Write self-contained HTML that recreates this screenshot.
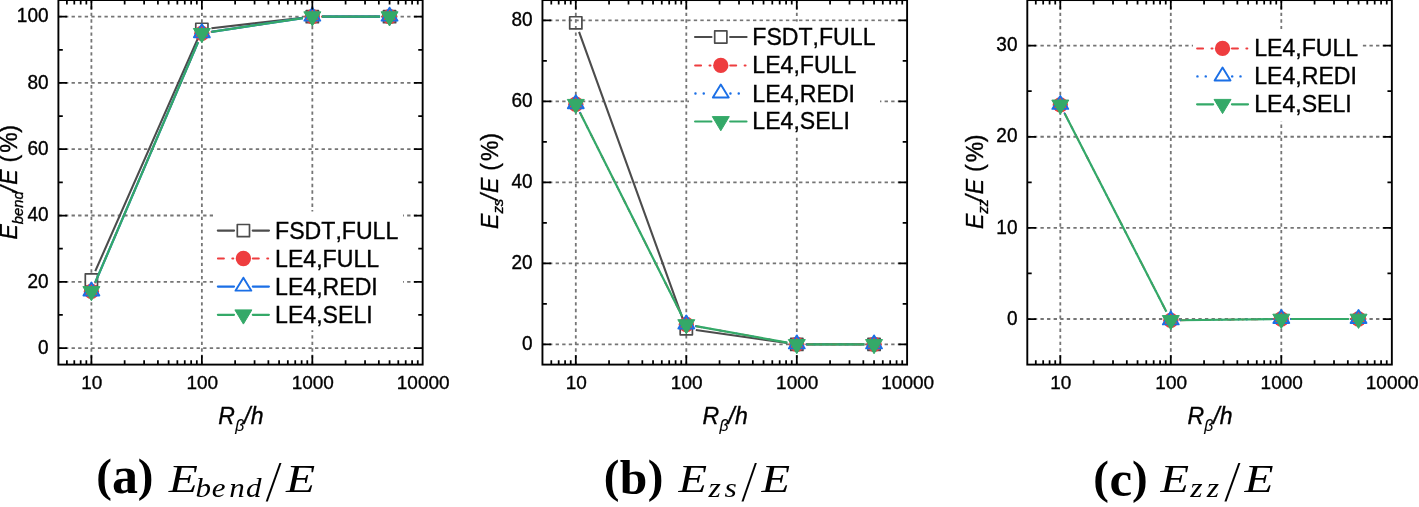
<!DOCTYPE html>
<html lang="en"><head><meta charset="utf-8"><title>Energy ratios</title>
<style>html,body{margin:0;padding:0;background:#fff}body{width:1419px;height:507px;overflow:hidden}svg{display:block}text{font-family:"Liberation Sans",Arial,Helvetica,sans-serif;fill:#000;font-kerning:none;stroke:#000;stroke-width:0.35px}.cap{font-family:"Liberation Serif","Times New Roman",Times,serif;stroke-width:0}</style></head><body>
<svg width="1419" height="507" viewBox="0 0 1419 507">
<rect width="1419" height="507" fill="#fff"/>
<g stroke="#757575" stroke-width="1.8" stroke-dasharray="3.35 3.23" fill="none">
<path d="M58.4 348.1H422.65"/>
<path d="M58.4 281.8H422.65"/>
<path d="M58.4 215.5H422.65"/>
<path d="M58.4 149.2H422.65"/>
<path d="M58.4 82.9H422.65"/>
<path d="M58.4 16.6H422.65"/>
<path stroke-dashoffset="0.5" d="M91.4 0.05V364.6"/>
<path stroke-dashoffset="0.5" d="M201.87 0.05V364.6"/>
<path stroke-dashoffset="0.5" d="M312.34 0.05V364.6"/>
</g>
<rect x="213" y="211.5" width="190" height="118.7" fill="#fff"/>
<path d="M217.8 230.6H234.1M252.7 230.6H269" stroke="#4c4c4c" stroke-width="2.1" stroke-linecap="round" fill="none"/>
<rect x="237.3" y="224.5" width="12.2" height="12.2" fill="none" stroke="#4c4c4c" stroke-width="1.7" stroke-linejoin="round"/>
<text transform="translate(275.1 238.6) scale(1 1)" font-size="23.1">FSDT,FULL</text>
<path d="M217.9 258.5H234M252.8 258.5H268.9" stroke="#ee3d3f" stroke-width="2" fill="none" stroke-dasharray="6 8.4 1 8.4" stroke-linecap="round"/>
<circle cx="243.4" cy="258.5" r="7.65" fill="#ee3d3f"/>
<text transform="translate(275.1 266.5) scale(1 1)" font-size="23.1">LE4,FULL</text>
<path d="M217.9 286.6H234M252.8 286.6H268.9" stroke="#1b6fe6" stroke-width="2.2" stroke-linecap="round" fill="none"/>
<path d="M243.4 277.65L251.35 290.65H235.45Z" fill="none" stroke="#1b6fe6" stroke-width="1.9" stroke-linejoin="round"/>
<text transform="translate(275.1 294.6) scale(1 1)" font-size="23.1">LE4,REDI</text>
<path d="M217.9 314.8H234M252.8 314.8H268.9" stroke="#34a968" stroke-width="2.2" stroke-linecap="round" fill="none"/>
<path d="M243.4 324.1L251.9 309.9H234.9Z" fill="#34a968" stroke="#34a968" stroke-width="1" stroke-linejoin="round"/>
<text transform="translate(275.1 322.7) scale(1 1)" font-size="23.1">LE4,SELI</text>
<path d="M95.27 271.16L198 38.11M211.41 28.23L302.8 17.7M321.94 16.6L379.96 16.6" stroke="#4c4c4c" stroke-width="2.1" fill="none"/>
<rect x="85.3" y="273.84" width="12.2" height="12.2" fill="#fff" stroke="#4c4c4c" stroke-width="1.7" stroke-linejoin="round"/>
<rect x="195.77" y="23.23" width="12.2" height="12.2" fill="#fff" stroke="#4c4c4c" stroke-width="1.7" stroke-linejoin="round"/>
<rect x="306.24" y="10.5" width="12.2" height="12.2" fill="#fff" stroke="#4c4c4c" stroke-width="1.7" stroke-linejoin="round"/>
<rect x="383.46" y="10.5" width="12.2" height="12.2" fill="#fff" stroke="#4c4c4c" stroke-width="1.7" stroke-linejoin="round"/>
<path d="M95.18 282.59L198.09 42.13M211.36 31.87L302.85 18.04M321.94 16.6L379.96 16.6" stroke="#ee3d3f" stroke-width="1.8" fill="none" stroke-dasharray="6 8.4 1 8.4" stroke-linecap="round"/>
<circle cx="91.4" cy="291.41" r="7.65" fill="#ee3d3f"/>
<circle cx="201.87" cy="33.31" r="7.65" fill="#ee3d3f"/>
<circle cx="312.34" cy="16.6" r="7.65" fill="#ee3d3f"/>
<circle cx="389.56" cy="16.6" r="7.65" fill="#ee3d3f"/>
<path d="M95.18 282.59L198.09 42.13M211.36 31.87L302.85 18.04M321.94 16.6L379.96 16.6" stroke="#1b6fe6" stroke-width="2.2" fill="none"/>
<path d="M91.4 282.46L99.35 295.46H83.45Z" fill="none" stroke="#1b6fe6" stroke-width="1.9" stroke-linejoin="round"/>
<path d="M201.87 24.36L209.82 37.36H193.92Z" fill="none" stroke="#1b6fe6" stroke-width="1.9" stroke-linejoin="round"/>
<path d="M312.34 7.65L320.29 20.65H304.39Z" fill="none" stroke="#1b6fe6" stroke-width="1.9" stroke-linejoin="round"/>
<path d="M389.56 7.65L397.51 20.65H381.61Z" fill="none" stroke="#1b6fe6" stroke-width="1.9" stroke-linejoin="round"/>
<path d="M95.18 282.59L198.09 42.13M211.36 31.87L302.85 18.04M321.94 16.6L379.96 16.6" stroke="#34a968" stroke-width="2.2" fill="none"/>
<path d="M91.4 300.81L99.9 286.61H82.9Z" fill="#34a968" stroke="#34a968" stroke-width="1" stroke-linejoin="round"/>
<path d="M201.87 42.71L210.37 28.51H193.37Z" fill="#34a968" stroke="#34a968" stroke-width="1" stroke-linejoin="round"/>
<path d="M312.34 26L320.84 11.8H303.84Z" fill="#34a968" stroke="#34a968" stroke-width="1" stroke-linejoin="round"/>
<path d="M389.56 26L398.06 11.8H381.06Z" fill="#34a968" stroke="#34a968" stroke-width="1" stroke-linejoin="round"/>
<g stroke="#000" stroke-width="1.9" fill="none">
<rect x="58.4" y="0.05" width="364.25" height="364.55"/>
<path stroke-width="1.75" d="M58.4 348.1h8.7M422.65 348.1h-8.7M58.4 281.8h8.7M422.65 281.8h-8.7M58.4 215.5h8.7M422.65 215.5h-8.7M58.4 149.2h8.7M422.65 149.2h-8.7M58.4 82.9h8.7M422.65 82.9h-8.7M58.4 16.6h8.7M422.65 16.6h-8.7M58.4 314.95h4.4M422.65 314.95h-4.4M58.4 248.65h4.4M422.65 248.65h-4.4M58.4 182.35h4.4M422.65 182.35h-4.4M58.4 116.05h4.4M422.65 116.05h-4.4M58.4 49.75h4.4M422.65 49.75h-4.4M91.4 0.05v9.4M91.4 364.6v-9.4M201.87 0.05v9.4M201.87 364.6v-9.4M312.34 0.05v9.4M312.34 364.6v-9.4M66.89 0.05v4.4M66.89 364.6v-4.4M74.29 0.05v4.4M74.29 364.6v-4.4M80.69 0.05v4.4M80.69 364.6v-4.4M86.35 0.05v4.4M86.35 364.6v-4.4M124.65 0.05v4.4M124.65 364.6v-4.4M144.11 0.05v4.4M144.11 364.6v-4.4M157.91 0.05v4.4M157.91 364.6v-4.4M168.62 0.05v4.4M168.62 364.6v-4.4M177.36 0.05v4.4M177.36 364.6v-4.4M184.76 0.05v4.4M184.76 364.6v-4.4M191.16 0.05v4.4M191.16 364.6v-4.4M196.82 0.05v4.4M196.82 364.6v-4.4M235.12 0.05v4.4M235.12 364.6v-4.4M254.58 0.05v4.4M254.58 364.6v-4.4M268.38 0.05v4.4M268.38 364.6v-4.4M279.09 0.05v4.4M279.09 364.6v-4.4M287.83 0.05v4.4M287.83 364.6v-4.4M295.23 0.05v4.4M295.23 364.6v-4.4M301.63 0.05v4.4M301.63 364.6v-4.4M307.29 0.05v4.4M307.29 364.6v-4.4M345.59 0.05v4.4M345.59 364.6v-4.4M365.05 0.05v4.4M365.05 364.6v-4.4M378.85 0.05v4.4M378.85 364.6v-4.4M389.56 0.05v4.4M389.56 364.6v-4.4M398.3 0.05v4.4M398.3 364.6v-4.4M405.7 0.05v4.4M405.7 364.6v-4.4M412.1 0.05v4.4M412.1 364.6v-4.4M417.76 0.05v4.4M417.76 364.6v-4.4"/>
</g>
<text transform="translate(48.55 353.8) scale(1 1.03)" font-size="19" text-anchor="end">0</text>
<text transform="translate(48.55 287.5) scale(1 1.03)" font-size="19" text-anchor="end">20</text>
<text transform="translate(48.55 221.2) scale(1 1.03)" font-size="19" text-anchor="end">40</text>
<text transform="translate(48.55 154.9) scale(1 1.03)" font-size="19" text-anchor="end">60</text>
<text transform="translate(48.55 88.6) scale(1 1.03)" font-size="19" text-anchor="end">80</text>
<text transform="translate(48.55 22.3) scale(1 1.03)" font-size="19" text-anchor="end">100</text>
<text transform="translate(91.8 389.2) scale(1 1.01)" font-size="19" text-anchor="middle">10</text>
<text transform="translate(202.27 389.2) scale(1 1.01)" font-size="19" text-anchor="middle">100</text>
<text transform="translate(312.74 389.2) scale(1 1.01)" font-size="19" text-anchor="middle">1000</text>
<text transform="translate(423.21 389.2) scale(1 1.01)" font-size="19" text-anchor="middle">10000</text>
<text transform="translate(240.52 423.8) scale(1 1.01)" font-size="23" font-style="italic"><tspan x="-22.2">R</tspan><tspan x="-5.3" dy="7.1" font-size="15.8" style="stroke-width:.1px">β</tspan><tspan x="3.6 10.3" dy="-7.1">/h</tspan></text>
<text transform="translate(17.4 239.6) rotate(-90) scale(1 1.04)" font-size="23"><tspan font-style="italic"><tspan x="0">E</tspan><tspan font-size="14.8" x="15.34" dy="5.4">bend</tspan><tspan x="47.61 54.91" dy="-5.4">/E</tspan></tspan><tspan x="70.56 77.06 86.86 106.96"> (%)</tspan></text>
<g stroke="#757575" stroke-width="1.8" stroke-dasharray="3.35 3.23" fill="none">
<path d="M542.45 344.35H907.1"/>
<path d="M542.45 263.36H907.1"/>
<path d="M542.45 182.37H907.1"/>
<path d="M542.45 101.39H907.1"/>
<path d="M542.45 20.4H907.1"/>
<path stroke-dashoffset="0.5" d="M575.8 0.08V364.6"/>
<path stroke-dashoffset="0.5" d="M686.3 0.08V364.6"/>
<path stroke-dashoffset="0.5" d="M796.8 0.08V364.6"/>
</g>
<rect x="689" y="21.6" width="191" height="114" fill="#fff"/>
<path d="M695 37H711.5M730.1 37H746.6" stroke="#4c4c4c" stroke-width="2.1" stroke-linecap="round" fill="none"/>
<rect x="714.7" y="30.9" width="12.2" height="12.2" fill="none" stroke="#4c4c4c" stroke-width="1.7" stroke-linejoin="round"/>
<text transform="translate(752.3 45) scale(1 1)" font-size="23.1">FSDT,FULL</text>
<path d="M695.1 65.4H711.4M730.2 65.4H746.5" stroke="#ee3d3f" stroke-width="2" fill="none" stroke-dasharray="6 8.4 1 8.4" stroke-linecap="round"/>
<circle cx="720.8" cy="65.4" r="7.65" fill="#ee3d3f"/>
<text transform="translate(752.3 73.4) scale(1 1)" font-size="23.1">LE4,FULL</text>
<path d="M695.4 93.5H711.4M730.4 93.5H746.5" stroke="#1b6fe6" stroke-width="2.4" fill="none" stroke-dasharray="0.1 8.2" stroke-linecap="round"/>
<path d="M720.8 84.55L728.75 97.55H712.85Z" fill="none" stroke="#1b6fe6" stroke-width="1.9" stroke-linejoin="round"/>
<text transform="translate(752.3 101.5) scale(1 1)" font-size="23.1">LE4,REDI</text>
<path d="M695.1 121.5H711.4M730.2 121.5H746.5" stroke="#34a968" stroke-width="2.2" stroke-linecap="round" fill="none"/>
<path d="M720.8 130.8L729.3 116.6H712.3Z" fill="#34a968" stroke="#34a968" stroke-width="1" stroke-linejoin="round"/>
<text transform="translate(752.3 129.4) scale(1 1)" font-size="23.1">LE4,SELI</text>
<path d="M579.06 31.86L683.04 319.69M695.81 330.06L787.29 343.01M806.4 344.35L864.44 344.35" stroke="#4c4c4c" stroke-width="2.1" fill="none"/>
<rect x="569.7" y="16.73" width="12.2" height="12.2" fill="none" stroke="#4c4c4c" stroke-width="1.7" stroke-linejoin="round"/>
<rect x="680.2" y="322.62" width="12.2" height="12.2" fill="none" stroke="#4c4c4c" stroke-width="1.7" stroke-linejoin="round"/>
<rect x="790.7" y="338.25" width="12.2" height="12.2" fill="none" stroke="#4c4c4c" stroke-width="1.7" stroke-linejoin="round"/>
<rect x="867.94" y="338.25" width="12.2" height="12.2" fill="none" stroke="#4c4c4c" stroke-width="1.7" stroke-linejoin="round"/>
<path d="M580.1 112.8L682 315.93M695.75 326.2L787.35 342.65M806.4 344.35L864.44 344.35" stroke="#ee3d3f" stroke-width="1.8" fill="none" stroke-dasharray="6 8.4 1 8.4" stroke-linecap="round"/>
<circle cx="575.8" cy="104.22" r="7.65" fill="#ee3d3f"/>
<circle cx="686.3" cy="324.51" r="7.65" fill="#ee3d3f"/>
<circle cx="796.8" cy="344.35" r="7.65" fill="#ee3d3f"/>
<circle cx="874.04" cy="344.35" r="7.65" fill="#ee3d3f"/>
<path d="M580.1 112.8L682 315.93M695.75 326.2L787.35 342.65M806.4 344.35L864.44 344.35" stroke="#1b6fe6" stroke-width="1.9" fill="none" stroke-dasharray="0.1 8.2" stroke-linecap="round"/>
<path d="M575.8 95.27L583.75 108.27H567.85Z" fill="none" stroke="#1b6fe6" stroke-width="1.9" stroke-linejoin="round"/>
<path d="M686.3 315.56L694.25 328.56H678.35Z" fill="none" stroke="#1b6fe6" stroke-width="1.9" stroke-linejoin="round"/>
<path d="M796.8 335.4L804.75 348.4H788.85Z" fill="none" stroke="#1b6fe6" stroke-width="1.9" stroke-linejoin="round"/>
<path d="M874.04 335.4L881.99 348.4H866.09Z" fill="none" stroke="#1b6fe6" stroke-width="1.9" stroke-linejoin="round"/>
<path d="M580.1 112.8L682 315.93M695.75 326.2L787.35 342.65M806.4 344.35L864.44 344.35" stroke="#34a968" stroke-width="2.2" fill="none"/>
<path d="M575.8 113.62L584.3 99.42H567.3Z" fill="#34a968" stroke="#34a968" stroke-width="1" stroke-linejoin="round"/>
<path d="M686.3 333.91L694.8 319.71H677.8Z" fill="#34a968" stroke="#34a968" stroke-width="1" stroke-linejoin="round"/>
<path d="M796.8 353.75L805.3 339.55H788.3Z" fill="#34a968" stroke="#34a968" stroke-width="1" stroke-linejoin="round"/>
<path d="M874.04 353.75L882.54 339.55H865.54Z" fill="#34a968" stroke="#34a968" stroke-width="1" stroke-linejoin="round"/>
<g stroke="#000" stroke-width="1.9" fill="none">
<rect x="542.45" y="0.08" width="364.65" height="364.52"/>
<path stroke-width="1.75" d="M542.45 344.35h8.7M907.1 344.35h-8.7M542.45 263.36h8.7M907.1 263.36h-8.7M542.45 182.37h8.7M907.1 182.37h-8.7M542.45 101.39h8.7M907.1 101.39h-8.7M542.45 20.4h8.7M907.1 20.4h-8.7M542.45 303.86h4.4M907.1 303.86h-4.4M542.45 222.87h4.4M907.1 222.87h-4.4M542.45 141.88h4.4M907.1 141.88h-4.4M542.45 60.89h4.4M907.1 60.89h-4.4M575.8 0.08v9.4M575.8 364.6v-9.4M686.3 0.08v9.4M686.3 364.6v-9.4M796.8 0.08v9.4M796.8 364.6v-9.4M551.29 0.08v4.4M551.29 364.6v-4.4M558.68 0.08v4.4M558.68 364.6v-4.4M565.09 0.08v4.4M565.09 364.6v-4.4M570.74 0.08v4.4M570.74 364.6v-4.4M609.06 0.08v4.4M609.06 364.6v-4.4M628.52 0.08v4.4M628.52 364.6v-4.4M642.33 0.08v4.4M642.33 364.6v-4.4M653.04 0.08v4.4M653.04 364.6v-4.4M661.79 0.08v4.4M661.79 364.6v-4.4M669.18 0.08v4.4M669.18 364.6v-4.4M675.59 0.08v4.4M675.59 364.6v-4.4M681.24 0.08v4.4M681.24 364.6v-4.4M719.56 0.08v4.4M719.56 364.6v-4.4M739.02 0.08v4.4M739.02 364.6v-4.4M752.83 0.08v4.4M752.83 364.6v-4.4M763.54 0.08v4.4M763.54 364.6v-4.4M772.29 0.08v4.4M772.29 364.6v-4.4M779.68 0.08v4.4M779.68 364.6v-4.4M786.09 0.08v4.4M786.09 364.6v-4.4M791.74 0.08v4.4M791.74 364.6v-4.4M830.06 0.08v4.4M830.06 364.6v-4.4M849.52 0.08v4.4M849.52 364.6v-4.4M863.33 0.08v4.4M863.33 364.6v-4.4M874.04 0.08v4.4M874.04 364.6v-4.4M882.79 0.08v4.4M882.79 364.6v-4.4M890.18 0.08v4.4M890.18 364.6v-4.4M896.59 0.08v4.4M896.59 364.6v-4.4M902.24 0.08v4.4M902.24 364.6v-4.4"/>
</g>
<text transform="translate(532.6 350.05) scale(1 1.03)" font-size="19" text-anchor="end">0</text>
<text transform="translate(532.6 269.06) scale(1 1.03)" font-size="19" text-anchor="end">20</text>
<text transform="translate(532.6 188.07) scale(1 1.03)" font-size="19" text-anchor="end">40</text>
<text transform="translate(532.6 107.09) scale(1 1.03)" font-size="19" text-anchor="end">60</text>
<text transform="translate(532.6 26.1) scale(1 1.03)" font-size="19" text-anchor="end">80</text>
<text transform="translate(576.2 389.2) scale(1 1.01)" font-size="19" text-anchor="middle">10</text>
<text transform="translate(686.7 389.2) scale(1 1.01)" font-size="19" text-anchor="middle">100</text>
<text transform="translate(797.2 389.2) scale(1 1.01)" font-size="19" text-anchor="middle">1000</text>
<text transform="translate(907.7 389.2) scale(1 1.01)" font-size="19" text-anchor="middle">10000</text>
<text transform="translate(724.78 423.8) scale(1 1.01)" font-size="23" font-style="italic"><tspan x="-22.2">R</tspan><tspan x="-5.3" dy="7.1" font-size="15.8" style="stroke-width:.1px">β</tspan><tspan x="3.6 10.3" dy="-7.1">/h</tspan></text>
<text transform="translate(497.8 228.9) rotate(-90) scale(1 1.04)" font-size="23"><tspan font-style="italic"><tspan x="0">E</tspan><tspan font-size="14.8" x="15.34" dy="5.4">zs</tspan><tspan x="28.69 35.99" dy="-5.4">/E</tspan></tspan><tspan x="51.64 58.14 67.94 88.04"> (%)</tspan></text>
<g stroke="#757575" stroke-width="1.8" stroke-dasharray="3.35 3.23" fill="none">
<path d="M1027.3 319H1391.85"/>
<path d="M1027.3 227.88H1391.85"/>
<path d="M1027.3 136.76H1391.85"/>
<path d="M1027.3 45.64H1391.85"/>
<path stroke-dashoffset="0.5" d="M1060.3 0.08V364.6"/>
<path stroke-dashoffset="0.5" d="M1170.8 0.08V364.6"/>
<path stroke-dashoffset="0.5" d="M1281.3 0.08V364.6"/>
</g>
<rect x="1193" y="29" width="169" height="92" fill="#fff"/>
<path d="M1197.1 48.4H1213.15M1231.95 48.4H1248" stroke="#ee3d3f" stroke-width="2" fill="none" stroke-dasharray="6 8.4 1 8.4" stroke-linecap="round"/>
<circle cx="1222.55" cy="48.4" r="7.65" fill="#ee3d3f"/>
<text transform="translate(1254.2 56.4) scale(1 1)" font-size="23.1">LE4,FULL</text>
<path d="M1197.4 76.4H1213.15M1232.15 76.4H1248" stroke="#1b6fe6" stroke-width="2.4" fill="none" stroke-dasharray="0.1 8.2" stroke-linecap="round"/>
<path d="M1222.55 67.45L1230.5 80.45H1214.6Z" fill="none" stroke="#1b6fe6" stroke-width="1.9" stroke-linejoin="round"/>
<text transform="translate(1254.2 84.4) scale(1 1)" font-size="23.1">LE4,REDI</text>
<path d="M1197.1 104.3H1213.15M1231.95 104.3H1248" stroke="#34a968" stroke-width="2.2" stroke-linecap="round" fill="none"/>
<path d="M1222.55 113.6L1231.05 99.4H1214.05Z" fill="#34a968" stroke="#34a968" stroke-width="1" stroke-linejoin="round"/>
<text transform="translate(1254.2 112.2) scale(1 1)" font-size="23.1">LE4,SELI</text>
<path d="M1064.68 113.41L1166.42 311.82M1180.4 320.25L1271.7 319.12M1290.9 319L1348.94 319" stroke="#ee3d3f" stroke-width="1.8" fill="none" stroke-dasharray="6 8.4 1 8.4" stroke-linecap="round"/>
<circle cx="1060.3" cy="104.87" r="7.65" fill="#ee3d3f"/>
<circle cx="1170.8" cy="320.37" r="7.65" fill="#ee3d3f"/>
<circle cx="1281.3" cy="319" r="7.65" fill="#ee3d3f"/>
<circle cx="1358.54" cy="319" r="7.65" fill="#ee3d3f"/>
<path d="M1064.68 113.41L1166.42 311.82M1180.4 320.25L1271.7 319.12M1290.9 319L1348.94 319" stroke="#1b6fe6" stroke-width="1.9" fill="none" stroke-dasharray="0.1 8.2" stroke-linecap="round"/>
<path d="M1060.3 95.92L1068.25 108.92H1052.35Z" fill="none" stroke="#1b6fe6" stroke-width="1.9" stroke-linejoin="round"/>
<path d="M1170.8 311.42L1178.75 324.42H1162.85Z" fill="none" stroke="#1b6fe6" stroke-width="1.9" stroke-linejoin="round"/>
<path d="M1281.3 310.05L1289.25 323.05H1273.35Z" fill="none" stroke="#1b6fe6" stroke-width="1.9" stroke-linejoin="round"/>
<path d="M1358.54 310.05L1366.49 323.05H1350.59Z" fill="none" stroke="#1b6fe6" stroke-width="1.9" stroke-linejoin="round"/>
<path d="M1064.68 113.41L1166.42 311.82M1180.4 320.25L1271.7 319.12M1290.9 319L1348.94 319" stroke="#34a968" stroke-width="2.2" fill="none"/>
<path d="M1060.3 114.27L1068.8 100.07H1051.8Z" fill="#34a968" stroke="#34a968" stroke-width="1" stroke-linejoin="round"/>
<path d="M1170.8 329.77L1179.3 315.57H1162.3Z" fill="#34a968" stroke="#34a968" stroke-width="1" stroke-linejoin="round"/>
<path d="M1281.3 328.4L1289.8 314.2H1272.8Z" fill="#34a968" stroke="#34a968" stroke-width="1" stroke-linejoin="round"/>
<path d="M1358.54 328.4L1367.04 314.2H1350.04Z" fill="#34a968" stroke="#34a968" stroke-width="1" stroke-linejoin="round"/>
<g stroke="#000" stroke-width="1.9" fill="none">
<rect x="1027.3" y="0.08" width="364.55" height="364.52"/>
<path stroke-width="1.75" d="M1027.3 319h8.7M1391.85 319h-8.7M1027.3 227.88h8.7M1391.85 227.88h-8.7M1027.3 136.76h8.7M1391.85 136.76h-8.7M1027.3 45.64h8.7M1391.85 45.64h-8.7M1027.3 273.44h4.4M1391.85 273.44h-4.4M1027.3 182.32h4.4M1391.85 182.32h-4.4M1027.3 91.2h4.4M1391.85 91.2h-4.4M1060.3 0.08v9.4M1060.3 364.6v-9.4M1170.8 0.08v9.4M1170.8 364.6v-9.4M1281.3 0.08v9.4M1281.3 364.6v-9.4M1035.79 0.08v4.4M1035.79 364.6v-4.4M1043.18 0.08v4.4M1043.18 364.6v-4.4M1049.59 0.08v4.4M1049.59 364.6v-4.4M1055.24 0.08v4.4M1055.24 364.6v-4.4M1093.56 0.08v4.4M1093.56 364.6v-4.4M1113.02 0.08v4.4M1113.02 364.6v-4.4M1126.83 0.08v4.4M1126.83 364.6v-4.4M1137.54 0.08v4.4M1137.54 364.6v-4.4M1146.29 0.08v4.4M1146.29 364.6v-4.4M1153.68 0.08v4.4M1153.68 364.6v-4.4M1160.09 0.08v4.4M1160.09 364.6v-4.4M1165.74 0.08v4.4M1165.74 364.6v-4.4M1204.06 0.08v4.4M1204.06 364.6v-4.4M1223.52 0.08v4.4M1223.52 364.6v-4.4M1237.33 0.08v4.4M1237.33 364.6v-4.4M1248.04 0.08v4.4M1248.04 364.6v-4.4M1256.79 0.08v4.4M1256.79 364.6v-4.4M1264.18 0.08v4.4M1264.18 364.6v-4.4M1270.59 0.08v4.4M1270.59 364.6v-4.4M1276.24 0.08v4.4M1276.24 364.6v-4.4M1314.56 0.08v4.4M1314.56 364.6v-4.4M1334.02 0.08v4.4M1334.02 364.6v-4.4M1347.83 0.08v4.4M1347.83 364.6v-4.4M1358.54 0.08v4.4M1358.54 364.6v-4.4M1367.29 0.08v4.4M1367.29 364.6v-4.4M1374.68 0.08v4.4M1374.68 364.6v-4.4M1381.09 0.08v4.4M1381.09 364.6v-4.4M1386.74 0.08v4.4M1386.74 364.6v-4.4"/>
</g>
<text transform="translate(1017.45 324.7) scale(1 1.03)" font-size="19" text-anchor="end">0</text>
<text transform="translate(1017.45 233.58) scale(1 1.03)" font-size="19" text-anchor="end">10</text>
<text transform="translate(1017.45 142.46) scale(1 1.03)" font-size="19" text-anchor="end">20</text>
<text transform="translate(1017.45 51.34) scale(1 1.03)" font-size="19" text-anchor="end">30</text>
<text transform="translate(1060.7 389.2) scale(1 1.01)" font-size="19" text-anchor="middle">10</text>
<text transform="translate(1171.2 389.2) scale(1 1.01)" font-size="19" text-anchor="middle">100</text>
<text transform="translate(1281.7 389.2) scale(1 1.01)" font-size="19" text-anchor="middle">1000</text>
<text transform="translate(1392.2 389.2) scale(1 1.01)" font-size="19" text-anchor="middle">10000</text>
<text transform="translate(1209.57 423.8) scale(1 1.01)" font-size="23" font-style="italic"><tspan x="-22.2">R</tspan><tspan x="-5.3" dy="7.1" font-size="15.8" style="stroke-width:.1px">β</tspan><tspan x="3.6 10.3" dy="-7.1">/h</tspan></text>
<text transform="translate(982.8 229.1) rotate(-90) scale(1 1.04)" font-size="23"><tspan font-style="italic"><tspan x="0">E</tspan><tspan font-size="14.8" x="15.34" dy="5.4">zz</tspan><tspan x="27.59 34.89" dy="-5.4">/E</tspan></tspan><tspan x="50.54 57.04 66.84 86.94"> (%)</tspan></text>
<text class="cap" font-weight="bold"><tspan font-size="47" x="96.25" y="490.55">(</tspan><tspan font-size="52" x="112.01" y="493.4">a</tspan><tspan font-size="47" x="137.85" y="490.55">)</tspan></text>
<text class="cap" font-style="italic" font-size="40" transform="translate(168.66 492.1) scale(1.191 1)">E</text>
<text class="cap" font-style="italic" font-size="27" transform="translate(0 496.9) scale(1.15 1)" x="170.03 184.24 199.42 213.85">bend</text>
<text class="cap" font-style="italic" font-size="58" transform="translate(267.41 501) scale(0.681 1)">/</text>
<text class="cap" font-style="italic" font-size="40" transform="translate(285.96 492.1) scale(1.191 1)">E</text>
<text class="cap" font-weight="bold"><tspan font-size="47" x="603.75" y="491.65">(</tspan><tspan font-size="49.5" x="619.87" y="494.43">b</tspan><tspan font-size="47" x="647.85" y="491.65">)</tspan></text>
<text class="cap" font-style="italic" font-size="40" transform="translate(678.45 492.1) scale(1.167 1)">E</text>
<text class="cap" font-style="italic" font-size="27" transform="translate(0 496.9) scale(1.17 1)" x="605.59 619.14">zs</text>
<text class="cap" font-style="italic" font-size="58" transform="translate(743.27 501) scale(0.664 1)">/</text>
<text class="cap" font-style="italic" font-size="40" transform="translate(761.45 492.1) scale(1.167 1)">E</text>
<text class="cap" font-weight="bold"><tspan font-size="47" x="1093.25" y="493.35">(</tspan><tspan font-size="51" x="1109.45" y="496.03">c</tspan><tspan font-size="47" x="1132" y="493.35">)</tspan></text>
<text class="cap" font-style="italic" font-size="40" transform="translate(1160.45 492.1) scale(1.167 1)">E</text>
<text class="cap" font-style="italic" font-size="27" transform="translate(0 496.9) scale(1.17 1)" x="1017.21 1031.44">zz</text>
<text class="cap" font-style="italic" font-size="58" transform="translate(1226.34 501) scale(0.690 1)">/</text>
<text class="cap" font-style="italic" font-size="40" transform="translate(1244.56 492.1) scale(1.187 1)">E</text>
</svg></body></html>
